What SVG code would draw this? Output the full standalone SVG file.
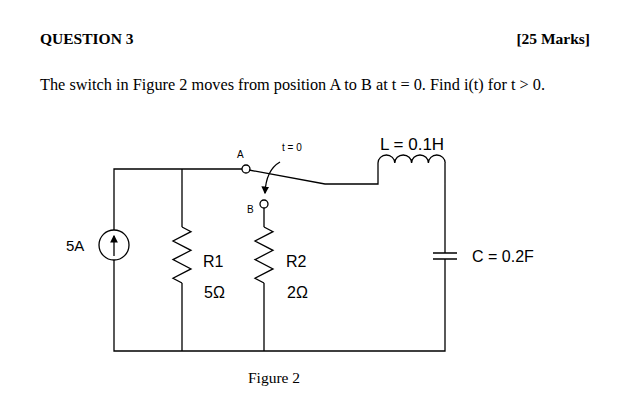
<svg xmlns="http://www.w3.org/2000/svg" width="640" height="400" viewBox="0 0 640 400">
<style>
.w{fill:none;stroke:#000;stroke-width:1.3}
.s{font-family:"Liberation Serif",serif;fill:#000}
.a{font-family:"Liberation Sans",Arial,sans-serif;fill:#000}
</style>
<defs><marker id="ar" markerWidth="6" markerHeight="6" refX="5" refY="3" orient="auto"><path d="M0,0 L6,3 L0,6 z"/></marker></defs>
<rect width="640" height="400" fill="#fff"/>
<text class="s" x="40" y="44" font-size="15.5" font-weight="bold">QUESTION 3</text>
<text class="s" x="590" y="44" font-size="15.5" font-weight="bold" text-anchor="end">[25 Marks]</text>
<text class="s" x="40" y="90" font-size="16.3">The switch in Figure 2 moves from position A to B at t = 0. Find i(t) for t &gt; 0.</text>
<g id="connectors">
<path class="w" d="M114,230 V169 H242 M114,260 V351 H445 V259 M445,253 V163 M378,163 V184 H325 L249,170 M182,169 V227 M182,283 V351 M264,208 V227 M264,283 V351"/>
</g>
<g id="source"><circle class="w" cx="114" cy="245" r="15"/><path class="w" d="M114,256 V236" marker-end="url(#ar)"/><text class="a" x="66" y="251" font-size="15">5A</text></g>
<g id="R1"><path class="w" d="M182,227 l9,4.7 l-18,9.3 l18,9.3 l-18,9.3 l18,9.3 l-18,9.3 l9,4.8"/><text class="a" x="203" y="267" font-size="16">R1</text><text class="a" x="204" y="298" font-size="16">5Ω</text></g>
<g id="R2"><path class="w" d="M264,227 l9,4.7 l-18,9.3 l18,9.3 l-18,9.3 l18,9.3 l-18,9.3 l9,4.8"/><text class="a" x="286" y="267" font-size="16">R2</text><text class="a" x="287" y="298" font-size="16">2Ω</text></g>
<g id="switch"><circle class="w" cx="246" cy="169" r="4"/><circle class="w" cx="264" cy="204" r="4"/><text class="a" x="237" y="158" font-size="10">A</text><text class="a" x="247" y="213" font-size="10">B</text><text class="a" x="282" y="151" font-size="10">t = 0</text><path class="w" d="M280,162 Q266,170 265,193" marker-end="url(#ar)" stroke-width="1"/></g>
<g id="L"><path class="w" d="M378,163 a8.4,8 0 0 1 16.8,0 a8.4,8 0 0 1 16.8,0 a8.4,8 0 0 1 16.8,0 a8.4,8 0 0 1 16.8,0"/><text class="a" x="380" y="150" font-size="17">L = 0.1H</text></g>
<g id="C"><path class="w" d="M433,253 H457 M433,259 H457"/><text class="a" x="472" y="262" font-size="16">C = 0.2F</text></g>
<text class="s" x="248" y="383" font-size="15.5">Figure 2</text>
</svg>
